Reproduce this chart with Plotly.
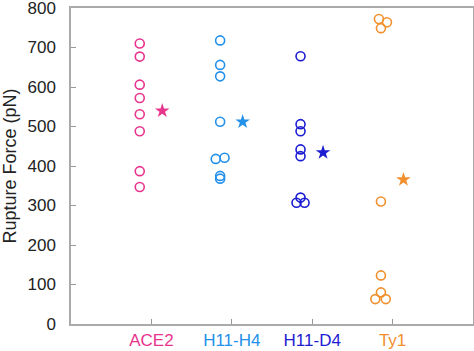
import plotly.graph_objects as go

categories = ["ACE2", "H11-H4", "H11-D4", "Ty1"]
colors = ["#E8348C", "#2390EA", "#1C1CD2", "#F0902E"]

ace2 = [710, 677, 606, 572, 531, 488, 387, 347]
h11_h4 = [718, 656, 627, 512, 418, 421, 375, 368]
h11_d4 = [678, 506, 488, 442, 425, 320, 307, 307]
ty1 = [772, 764, 749, 310, 123, 80, 63, 63]
values = [ace2, h11_h4, h11_d4, ty1]

y_ticks = [0, 100, 200, 300, 400, 500, 600, 700, 800]

# small horizontal jitter so overlapping circles stay visible
jitter = [
    [0, 0, 0, 0, 0, 0, 0, 0],
    [0, 0, 0, 0, -0.055, 0.055, 0, 0],
    [0, 0, 0, 0, 0, 0, -0.05, 0.05],
    [-0.025, 0.075, 0, 0, 0, 0, -0.07, 0.06],
]

fig = go.Figure()
for i, (cat, col, vals) in enumerate(zip(categories, colors, values)):
    base = i + 1 - 0.145
    xs = [base + j for j in jitter[i]]
    fig.add_trace(go.Scatter(
        x=xs, y=vals, mode="markers",
        marker=dict(symbol="circle-open", size=9, color=col, line=dict(width=1.6, color=col)),
        showlegend=False, hoverinfo="y"))
    mean = sum(vals) / len(vals)
    fig.add_trace(go.Scatter(
        x=[i + 1 + 0.135], y=[mean], mode="markers",
        marker=dict(symbol="star", size=11, color=col, line=dict(width=0)),
        showlegend=False, hoverinfo="y"))

ticktext = [f'<span style="color:{c}">{t}</span>' for t, c in zip(categories, colors)]

fig.update_layout(
    width=474, height=351,
    margin=dict(l=71, r=1, t=8, b=27),
    paper_bgcolor="white", plot_bgcolor="white",
    font=dict(family="Liberation Sans, Arial, sans-serif", size=17, color="#222"),
    xaxis=dict(range=[0, 5], tickvals=[1, 2, 3, 4], ticktext=ticktext,
               ticks="inside", ticklen=5, tickcolor="#999", showgrid=False, zeroline=False,
               showline=True, linecolor="#aaa", linewidth=1.5, mirror=True,
               tickfont=dict(size=17)),
    yaxis=dict(range=[0, 800], tickvals=y_ticks, ticks="inside", ticklen=5, tickcolor="#999",
               showgrid=False, zeroline=False, showline=True, linecolor="#aaa", linewidth=1.5,
               mirror=True, ticklabelstandoff=10, ticklabeloverflow="allow", automargin=False,
               title=dict(text="Rupture Force (pN)", font=dict(size=18), standoff=8),
               tickfont=dict(size=17)),
)

fig.write_html("out.html")
